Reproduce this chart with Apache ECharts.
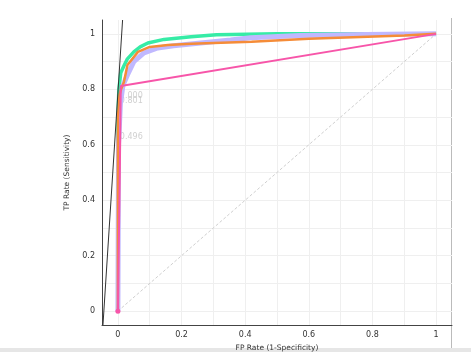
<!DOCTYPE html>
<html>
<head>
<meta charset="utf-8">
<script src="https://cdn.jsdelivr.net/npm/echarts@6/dist/echarts.min.js"></script>
<style>
  html, body { margin: 0; padding: 0; background: #fff; }
  #chart { width: 471px; height: 352px; }
</style>
</head>
<body>
<div id="chart"></div>
<script>
// tick positions
const gridTicks = [0, 0.1, 0.2, 0.3, 0.4, 0.5, 0.6, 0.7, 0.8, 0.9, 1]
const labelTicks = [0, 0.2, 0.4, 0.6, 0.8, 1]

// ROC curves
const greenFpr = [0, 0, 0.003, 0.009, 0.019, 0.03, 0.05, 0.07, 0.094, 0.145, 0.23, 0.31, 0.5, 0.8, 1]
const greenTpr = [0, 0.7, 0.8, 0.86, 0.885, 0.91, 0.935, 0.953, 0.967, 0.98, 0.99, 0.997, 1, 1, 1]

const lavFpr = [0, 0.002, 0.008, 0.016, 0.03, 0.05, 0.08, 0.125, 0.175, 0.26, 0.354, 0.417, 0.574, 0.78, 1]
const lavTpr = [0, 0.6, 0.75, 0.815, 0.852, 0.9, 0.93, 0.949, 0.957, 0.967, 0.978, 0.986, 0.994, 0.998, 1]

const orangeFpr = [0, 0, 0.005, 0.01, 0.019, 0.03, 0.063, 0.1, 0.157, 0.23, 0.42, 0.6, 0.9, 1]
const orangeTpr = [0, 0.7, 0.78, 0.8, 0.827, 0.888, 0.935, 0.953, 0.96, 0.964, 0.972, 0.982, 0.994, 1]

const pinkFpr = [0, 0.006, 0.009, 1]
const pinkTpr = [0, 0.5, 0.812, 1]

// steep black reference line and chance diagonal
const blackFpr = [-0.047, 0.0147]
const blackTpr = [-0.05, 1.05]
const diagFpr = [0, 1]
const diagTpr = [0, 1]

// threshold labels
const threshNames = ['1.000', '0.801', '0.496']
const threshFpr = [0.003, 0.003, 0.003]
const threshTpr = [0.777, 0.757, 0.627]

const pairs = (xs, ys) => xs.map((x, i) => [x, ys[i]])
const fmt = v => String(+v.toFixed(1))

const chart = echarts.init(document.getElementById('chart'))

const axisCommon = {
  type: 'value',
  min: -0.05,
  max: 1.05,
  axisLine: { show: true, onZero: false, lineStyle: { color: '#444', width: 1 } },
  axisTick: { show: false, customValues: gridTicks },
  axisLabel: { customValues: labelTicks, formatter: fmt, color: '#333', fontSize: 8, fontFamily: 'DejaVu Sans' },
  splitLine: { show: true, lineStyle: { color: '#efefef', width: 1 } },
  nameLocation: 'middle',
  nameTextStyle: { color: '#333', fontSize: 7.5, fontFamily: 'DejaVu Sans' }
}

const option = {
  animation: false,
  grid: { left: 102, right: 19, top: 20, bottom: 27, outerBoundsMode: 'none', containLabel: false },
  xAxis: Object.assign({}, axisCommon, {
    name: 'FP Rate (1-Specificity)',
    nameGap: 17,
    axisLabel: Object.assign({}, axisCommon.axisLabel, { margin: 6 })
  }),
  yAxis: Object.assign({}, axisCommon, {
    name: 'TP Rate (Sensitivity)',
    nameGap: 31,
    axisLabel: Object.assign({}, axisCommon.axisLabel, { margin: 7 })
  }),
  graphic: [
    { type: 'rect', left: 0, bottom: 0, shape: { width: 471, height: 4 }, style: { fill: '#e6e6e6' } },
    { type: 'line', shape: { x1: 451.5, y1: 18, x2: 451.5, y2: 348 }, style: { stroke: '#bbb', lineWidth: 1 } }
  ],
  series: [
    {
      type: 'line', data: pairs(diagFpr, diagTpr), showSymbol: false, silent: true,
      lineStyle: { color: '#cfcfcf', width: 1, type: [3, 2] }
    },
    {
      type: 'line', data: pairs(greenFpr, greenTpr), showSymbol: false,
      lineStyle: { color: '#36eca6', width: 3.5 }
    },
    {
      type: 'line', data: pairs(lavFpr, lavTpr), showSymbol: false,
      lineStyle: { color: '#c0b8ff', width: 5 }
    },
    {
      type: 'line', data: pairs(orangeFpr, orangeTpr), showSymbol: false,
      lineStyle: { color: '#f58c38', width: 2.5 }
    },
    {
      type: 'line',
      data: pairs(pinkFpr, pinkTpr).map((p, i) => i === 0
        ? { value: p, symbol: 'circle', symbolSize: 5 }
        : { value: p, symbol: 'none' }),
      showSymbol: true, itemStyle: { color: '#f755a9' },
      lineStyle: { color: '#f755a9', width: 2 }
    },
    {
      type: 'line', data: pairs(blackFpr, blackTpr), showSymbol: false,
      lineStyle: { color: '#333', width: 1 }
    },
    {
      type: 'scatter', symbolSize: 0, silent: true,
      data: threshNames.map((n, i) => ({ value: [threshFpr[i], threshTpr[i]], name: n })),
      label: {
        show: true, position: 'right', distance: 1, formatter: p => p.name,
        color: '#c4c4c4', fontSize: 8, fontFamily: 'DejaVu Sans'
      }
    }
  ]
}

chart.setOption(option)
</script>
</body>
</html>
